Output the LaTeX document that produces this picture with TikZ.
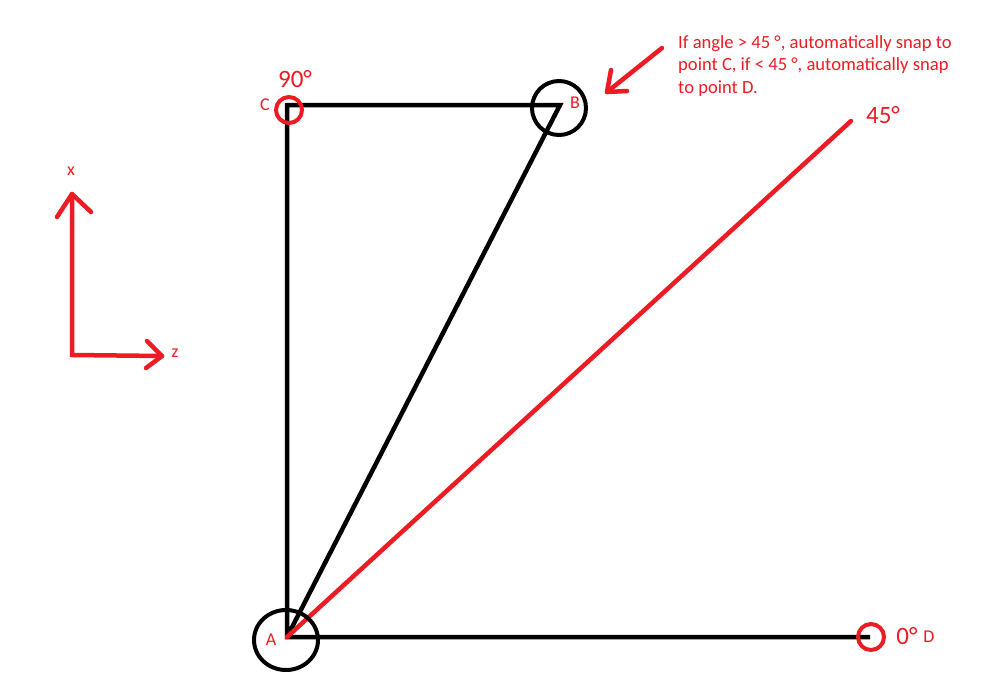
\documentclass[tikz,border=0pt]{standalone}
\usepackage{fontspec}
\setmainfont{Carlito}
\definecolor{pred}{RGB}{237,28,36}
\begin{document}
\begin{tikzpicture}[x=1pt,y=-1pt,
  blk/.style={line width=4.5pt,black},
  redl/.style={line width=4.5pt,pred,line cap=round,line join=round},
  ring/.style={line width=4pt},
  lbl/.style={text=pred,inner sep=0pt,font=\fontsize{18}{22}\selectfont},
  deg/.style={text=pred,inner sep=0pt,font=\fontsize{25}{30}\selectfont},
  note/.style={text=pred,inner sep=0pt,anchor=base west,font=\fontsize{18.6}{22}\selectfont}]
\useasboundingbox (0,0) rectangle (994,691);
\fill[white] (0,0) rectangle (994,691);
% points
\coordinate (A) at (287,637);
\coordinate (C) at (287,105);
\coordinate (B) at (560,105);
\coordinate (D) at (870,637);
\coordinate (E) at (851,121);
% black frame and diagonal
\draw[blk,line join=miter] (D) -- (A) -- (C) -- (B) -- (A);
% red 45 line
\draw[redl] (A) -- (E);
% circles
\draw[ring,black] (286,640) ellipse (32pt and 30pt);
\draw[ring,black] (559,108) circle (27pt);
\draw[ring,pred] (289,110) circle (13pt);
\draw[ring,pred] (871,637) circle (13pt);
% labels
\node[lbl] (lA) at (271,640) {A};
\node[lbl] (lB) at (575,103) {B};
\node[lbl] (lC) at (265,105) {C};
\node[lbl] (lD) at (929,637) {D};
\node[deg] (d90) at (295,79) {90°};
\node[deg] (d45) at (883,115) {45°};
\node[deg] (d0) at (907,636) {0°};
% note
\node[note] (n1) at (678,48) {If angle > 45 °, automatically snap to};
\node[note] (n2) at (678,70) {point C, if < 45 °, automatically snap};
\node[note] (n3) at (678,93) {to point D.};
% note arrow
\coordinate (ns) at (662,48);
\coordinate (nt) at (607,92);
\coordinate (na1) at (611,70);
\coordinate (na2) at (627,91);
\draw[redl] (ns) -- (nt);
\draw[redl] (na1) -- (nt) -- (na2);
% axes
\coordinate (O) at (72,355);
\coordinate (X) at (72,194);
\coordinate (Z) at (162,356);
\coordinate (xa1) at (57,217);
\coordinate (xa2) at (91,212);
\coordinate (za1) at (147,341);
\coordinate (za2) at (146,368);
\draw[redl,line join=miter] (X) -- (O) -- (Z);
\draw[redl] (xa1) -- (X) -- (xa2);
\draw[redl] (za1) -- (Z) -- (za2);
\node[lbl] (lx) at (71,171) {x};
\node[lbl] (lz) at (175,353) {z};
\end{tikzpicture}
\end{document}
